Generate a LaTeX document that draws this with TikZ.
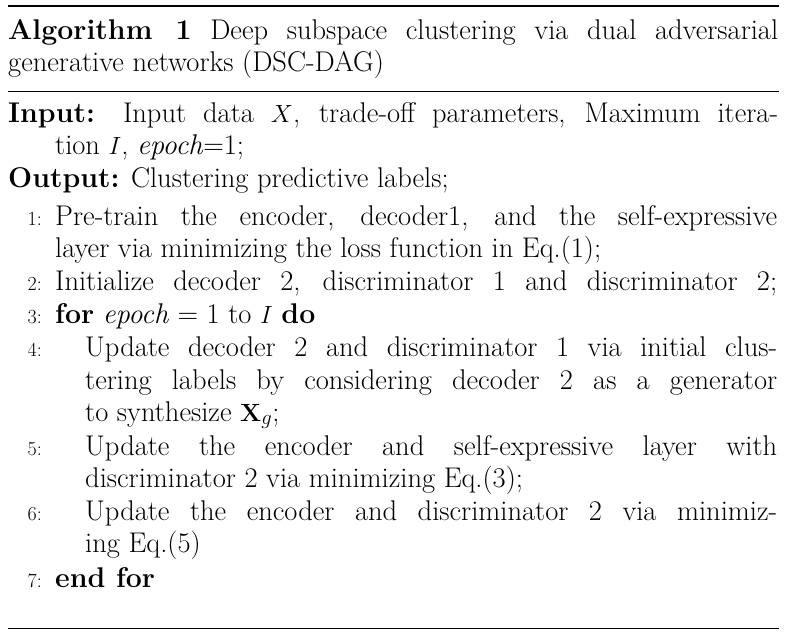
\documentclass[tikz,border=0pt]{standalone}
\usepackage{amsmath}
\begin{document}
\begin{tikzpicture}[x=1pt,y=-1pt,
  txt/.style={anchor=base west,inner sep=0pt,font=\fontsize{28.5}{32}\selectfont},
  num/.style={anchor=base east,inner sep=0pt,font=\fontsize{20}{22}\selectfont}]
\useasboundingbox (0,0) rectangle (789,639);
\draw[line width=1.6pt] (8,6) -- (779,6);
\node[txt] (t1) at (8,40) {\makebox[770pt][s]{\textbf{Algorithm 1} Deep subspace clustering via dual adversarial}};
\node[txt] (t2) at (8,72) {generative networks (DSC-DAG)};
\draw[line width=0.8pt] (8,91) -- (779,91);
\node[txt] (i1) at (8,123) {\makebox[770pt][s]{\textbf{Input:} Input data $X$, trade-off parameters, Maximum itera-}};
\node[txt] (i2) at (55,155) {tion $I$, \textit{epoch}=1;};
\node[txt] (o1) at (8,188) {\textbf{Output:} Clustering predictive labels;};
\node[num] (n1) at (42,225) {1:};
\node[txt] (l1a) at (55,225) {\makebox[722pt][s]{Pre-train the encoder, decoder1, and the self-expressive}};
\node[txt] (l1b) at (55,257) {layer via minimizing the loss function in Eq.(1);};
\node[num] (n2) at (42,290) {2:};
\node[txt] (l2) at (55,290) {\makebox[722pt][s]{Initialize decoder 2, discriminator 1 and discriminator 2;}};
\node[num] (n3) at (42,323) {3:};
\node[txt] (l3) at (55,323) {\textbf{for} \textit{epoch} = 1 to $I$ \textbf{do}};
\node[num] (n4) at (42,356) {4:};
\node[txt] (l4a) at (85,356) {\makebox[692pt][s]{Update decoder 2 and discriminator 1 via initial clus-}};
\node[txt] (l4b) at (85,389) {\makebox[692pt][s]{tering labels by considering decoder 2 as a generator}};
\node[txt] (l4c) at (85,421) {to synthesize $\mathbf{X}_g$;};
\node[num] (n5) at (42,455) {5:};
\node[txt] (l5a) at (85,455) {\makebox[692pt][s]{Update the encoder and self-expressive layer with}};
\node[txt] (l5b) at (85,487) {discriminator 2 via minimizing Eq.(3);};
\node[num] (n6) at (42,520) {6:};
\node[txt] (l6a) at (85,520) {\makebox[692pt][s]{Update the encoder and discriminator 2 via minimiz-}};
\node[txt] (l6b) at (85,552) {ing Eq.(5)};
\node[num] (n7) at (42,587) {7:};
\node[txt] (l7) at (55,587) {\textbf{end for}};
\draw[line width=0.8pt] (8,628) -- (779,628);
\end{tikzpicture}
\end{document}
